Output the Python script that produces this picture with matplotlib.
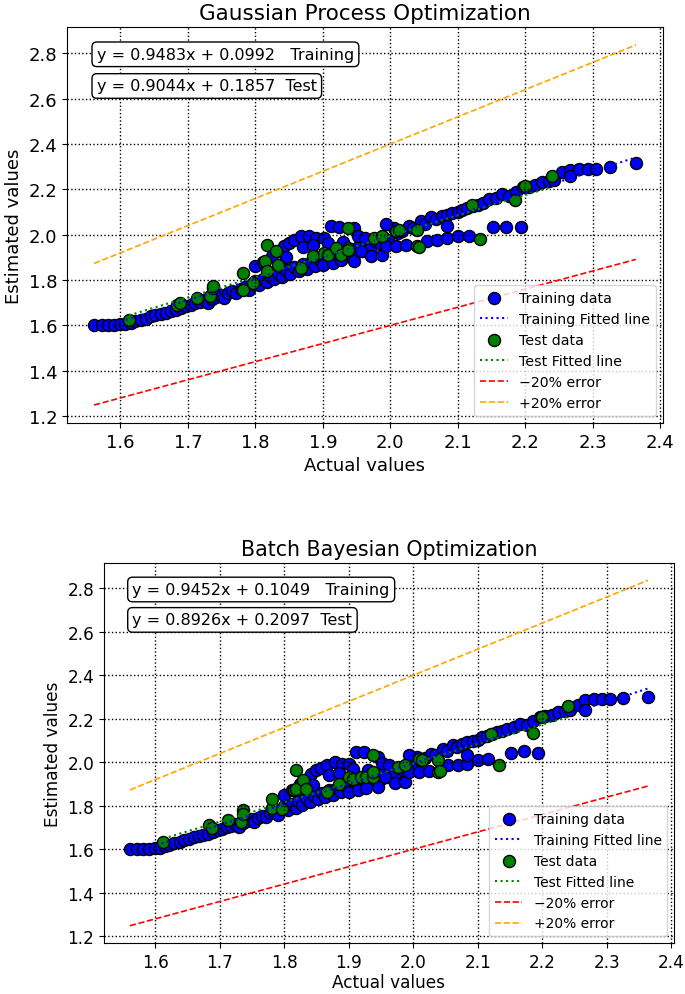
import numpy as np
import matplotlib as mpl
mpl.use('Agg')
import matplotlib.pyplot as plt

# actual values (shared by both optimisers)
train_actual = [
    1.561, 1.572, 1.581, 1.591, 1.600, 1.607, 1.615, 1.622, 1.630, 1.638,
    1.645, 1.652, 1.660, 1.668, 1.675, 1.682, 1.690, 1.697, 1.704, 1.711,
    1.718, 1.724, 1.730, 1.736, 1.742, 1.748, 1.754, 1.760, 1.766, 1.772,
    1.778, 1.784, 1.790, 1.796, 1.800, 1.806, 1.812, 1.818, 1.822, 1.828,
    1.834, 1.840, 1.846, 1.852, 1.858, 1.864, 1.870, 1.876, 1.882, 1.888,
    1.894, 1.900, 1.906, 1.912, 1.918, 1.924, 1.930, 1.936, 1.942, 1.948,
    1.954, 1.960, 1.966, 1.972, 1.978, 1.984, 1.990, 1.996, 2.006, 2.012,
    2.018, 2.027, 2.034, 2.046, 2.052, 2.061, 2.068, 2.076, 2.084, 2.092,
    2.100, 2.106, 2.114, 2.122, 2.130, 2.138, 2.146, 2.156, 2.166, 2.176,
    2.186, 2.196, 2.205, 2.215, 2.225, 2.235, 2.243, 2.255, 2.266, 2.267,
    2.280, 2.293, 2.305, 2.325, 2.364,
    # upper hump
    1.800, 1.812, 1.824, 1.836, 1.842, 1.850, 1.857, 1.867, 1.879, 1.890,
    1.901, 1.907, 1.912, 1.924, 1.946, 1.952, 1.962, 1.994, 1.870, 1.885,
    1.930, 1.845,
    # lower branch
    1.900, 1.915, 1.927, 1.946, 1.957, 1.972, 1.987, 1.994, 2.009, 2.024,
    2.054, 2.069, 2.084, 2.084, 2.101, 2.116, 2.152, 2.172, 2.194,
]
gp_train_est = [
    1.600, 1.600, 1.600, 1.600, 1.604, 1.606, 1.612, 1.618, 1.625, 1.630,
    1.640, 1.644, 1.650, 1.655, 1.664, 1.668, 1.676, 1.684, 1.690, 1.698,
    1.704, 1.712, 1.700, 1.718, 1.726, 1.735, 1.722, 1.742, 1.750, 1.745,
    1.762, 1.770, 1.758, 1.782, 1.795, 1.778, 1.805, 1.790, 1.820, 1.805,
    1.832, 1.815, 1.845, 1.828, 1.858, 1.838, 1.870, 1.850, 1.880, 1.862,
    1.892, 1.872, 1.902, 1.885, 1.912, 1.895, 1.925, 1.905, 1.936, 1.918,
    1.948, 1.930, 1.958, 1.945, 1.972, 1.962, 1.985, 1.975, 2.031, 2.008,
    2.018, 2.040, 2.030, 2.062, 2.048, 2.076, 2.070, 2.082, 2.089, 2.095,
    2.100, 2.111, 2.118, 2.125, 2.132, 2.140, 2.156, 2.162, 2.178, 2.170,
    2.190, 2.209, 2.212, 2.218, 2.231, 2.238, 2.240, 2.276, 2.284, 2.258,
    2.289, 2.289, 2.292, 2.298, 2.316,
    1.860, 1.880, 1.905, 1.930, 1.951, 1.965, 1.978, 1.995, 1.995, 1.985,
    1.987, 1.965, 2.040, 2.036, 2.031, 1.995, 1.985, 2.046, 1.945, 1.955,
    1.970, 1.900,
    1.868, 1.876, 1.889, 1.884, 1.929, 1.905, 1.911, 1.951, 1.951, 1.956,
    1.973, 1.978, 1.987, 2.040, 1.996, 1.996, 2.036, 2.036, 2.036,
]
bbo_train_est = [
    1.600, 1.600, 1.600, 1.602, 1.606, 1.608, 1.615, 1.620, 1.628, 1.634,
    1.642, 1.648, 1.655, 1.660, 1.668, 1.672, 1.680, 1.688, 1.694, 1.702,
    1.708, 1.716, 1.704, 1.722, 1.730, 1.738, 1.726, 1.746, 1.752, 1.748,
    1.765, 1.772, 1.760, 1.785, 1.798, 1.780, 1.808, 1.792, 1.822, 1.806,
    1.834, 1.816, 1.846, 1.830, 1.858, 1.840, 1.872, 1.852, 1.882, 1.864,
    1.894, 1.874, 1.904, 1.886, 1.914, 1.896, 1.926, 1.906, 1.938, 1.920,
    1.950, 1.932, 1.960, 1.946, 1.974, 1.964, 1.988, 1.978, 2.023, 2.010,
    2.020, 2.037, 2.032, 2.060, 2.050, 2.078, 2.072, 2.084, 2.092, 2.098,
    2.104, 2.115, 2.120, 2.129, 2.138, 2.146, 2.155, 2.161, 2.175, 2.172,
    2.188, 2.207, 2.212, 2.216, 2.230, 2.236, 2.239, 2.262, 2.285, 2.239,
    2.290, 2.290, 2.292, 2.294, 2.299,
    1.850, 1.872, 1.898, 1.925, 1.945, 1.963, 1.975, 1.986, 2.000, 1.991,
    1.990, 1.968, 2.046, 2.046, 2.023, 1.996, 1.988, 2.032, 1.942, 1.952,
    1.966, 1.895,
    1.862, 1.871, 1.880, 1.886, 1.931, 1.903, 1.908, 1.954, 1.956, 1.962,
    1.986, 1.986, 1.991, 2.032, 2.009, 2.014, 2.041, 2.050, 2.041,
]

test_actual = [
    1.613, 1.684, 1.688, 1.713, 1.733, 1.737, 1.737, 1.781, 1.781, 1.796,
    1.815, 1.818, 1.818, 1.830, 1.834, 1.867, 1.885, 1.901, 1.907, 1.919,
    1.927, 1.937, 1.937, 1.937, 1.976, 1.987, 2.009, 2.013, 2.039, 2.039,
    2.042, 2.121, 2.133, 2.185, 2.200, 2.240,
]
gp_test_est = [
    1.622, 1.689, 1.698, 1.720, 1.729, 1.764, 1.773, 1.756, 1.831, 1.787,
    1.884, 1.840, 1.956, 1.929, 1.867, 1.853, 1.907, 1.920, 1.911, 1.942,
    1.911, 1.942, 1.933, 2.031, 1.987, 1.996, 2.018, 2.022, 2.022, 1.951,
    1.947, 2.133, 1.982, 2.151, 2.213, 2.258,
]
bbo_test_est = [
    1.632, 1.710, 1.700, 1.733, 1.724, 1.779, 1.761, 1.789, 1.830, 1.784,
    1.871, 1.876, 1.963, 1.917, 1.876, 1.862, 1.899, 1.931, 1.922, 1.931,
    1.931, 1.931, 1.954, 2.032, 1.977, 1.986, 2.014, 2.009, 2.009, 1.954,
    1.960, 2.129, 1.986, 2.133, 2.207, 2.257,
]

# fitted line coefficients (slope, intercept)
gp_train_fit = (0.9483, 0.0992)
gp_test_fit = (0.9044, 0.1857)
bbo_train_fit = (0.9452, 0.1049)
bbo_test_fit = (0.8926, 0.2097)


def draw(ax, train_est, test_est, train_fit, test_fit, title, fs, lfs, tfs, lpad=4):
    xtr = np.array(train_actual)
    xte = np.array(test_actual)
    ax.scatter(xtr, train_est, s=75, c='blue', edgecolors='black',
               linewidths=1.0, label='Training data')
    xx = np.array([xtr.min(), xtr.max()])
    ax.plot(xx, np.polyval(train_fit, xx), 'b:', lw=1.5, label='Training Fitted line')
    ax.scatter(xte, test_est, s=75, c='green', edgecolors='black',
               linewidths=1.0, label='Test data')
    xt = np.array([xte.min(), xte.max()])
    ax.plot(xt, np.polyval(test_fit, xt), 'g:', lw=1.5, label='Test Fitted line')
    ax.plot(xx, 0.8 * xx, 'r--', lw=1.2, label='\u221220% error')
    ax.plot(xx, 1.2 * xx, '--', color='orange', lw=1.2, label='+20% error')

    ax.set_title(title, fontsize=tfs)
    ax.set_xlabel('Actual values', fontsize=fs, labelpad=lpad)
    ax.set_ylabel('Estimated values', fontsize=fs)
    ax.tick_params(labelsize=fs)
    ax.grid(True, linestyle=':', color='black', lw=1.0)
    ax.legend(loc='lower right', fontsize=lfs)

    box = dict(boxstyle='round', facecolor='white', edgecolor='black')
    ax.text(0.05, 0.95, 'y = %.4fx + %.4f   Training' % train_fit,
            transform=ax.transAxes, va='top', fontsize=11.5, bbox=box)
    ax.text(0.05, 0.87, 'y = %.4fx + %.4f  Test' % test_fit,
            transform=ax.transAxes, va='top', fontsize=11.5, bbox=box)


fig = plt.figure(figsize=(6.85, 9.95), dpi=100)
W, H = 685, 995
ax1 = fig.add_axes([67 / W, (H - 424) / H, 596 / W, 396 / H])
ax2 = fig.add_axes([104 / W, (H - 944) / H, 570 / W, 380 / H])

draw(ax1, gp_train_est, gp_test_est, gp_train_fit, gp_test_fit,
     'Gaussian Process Optimization', 13, 10.2, 15.5)
draw(ax2, bbo_train_est, bbo_test_est, bbo_train_fit, bbo_test_fit,
     'Batch Bayesian Optimization', 12.2, 10.0, 14.8, lpad=1.5)

fig.savefig('out.png', dpi=100)
